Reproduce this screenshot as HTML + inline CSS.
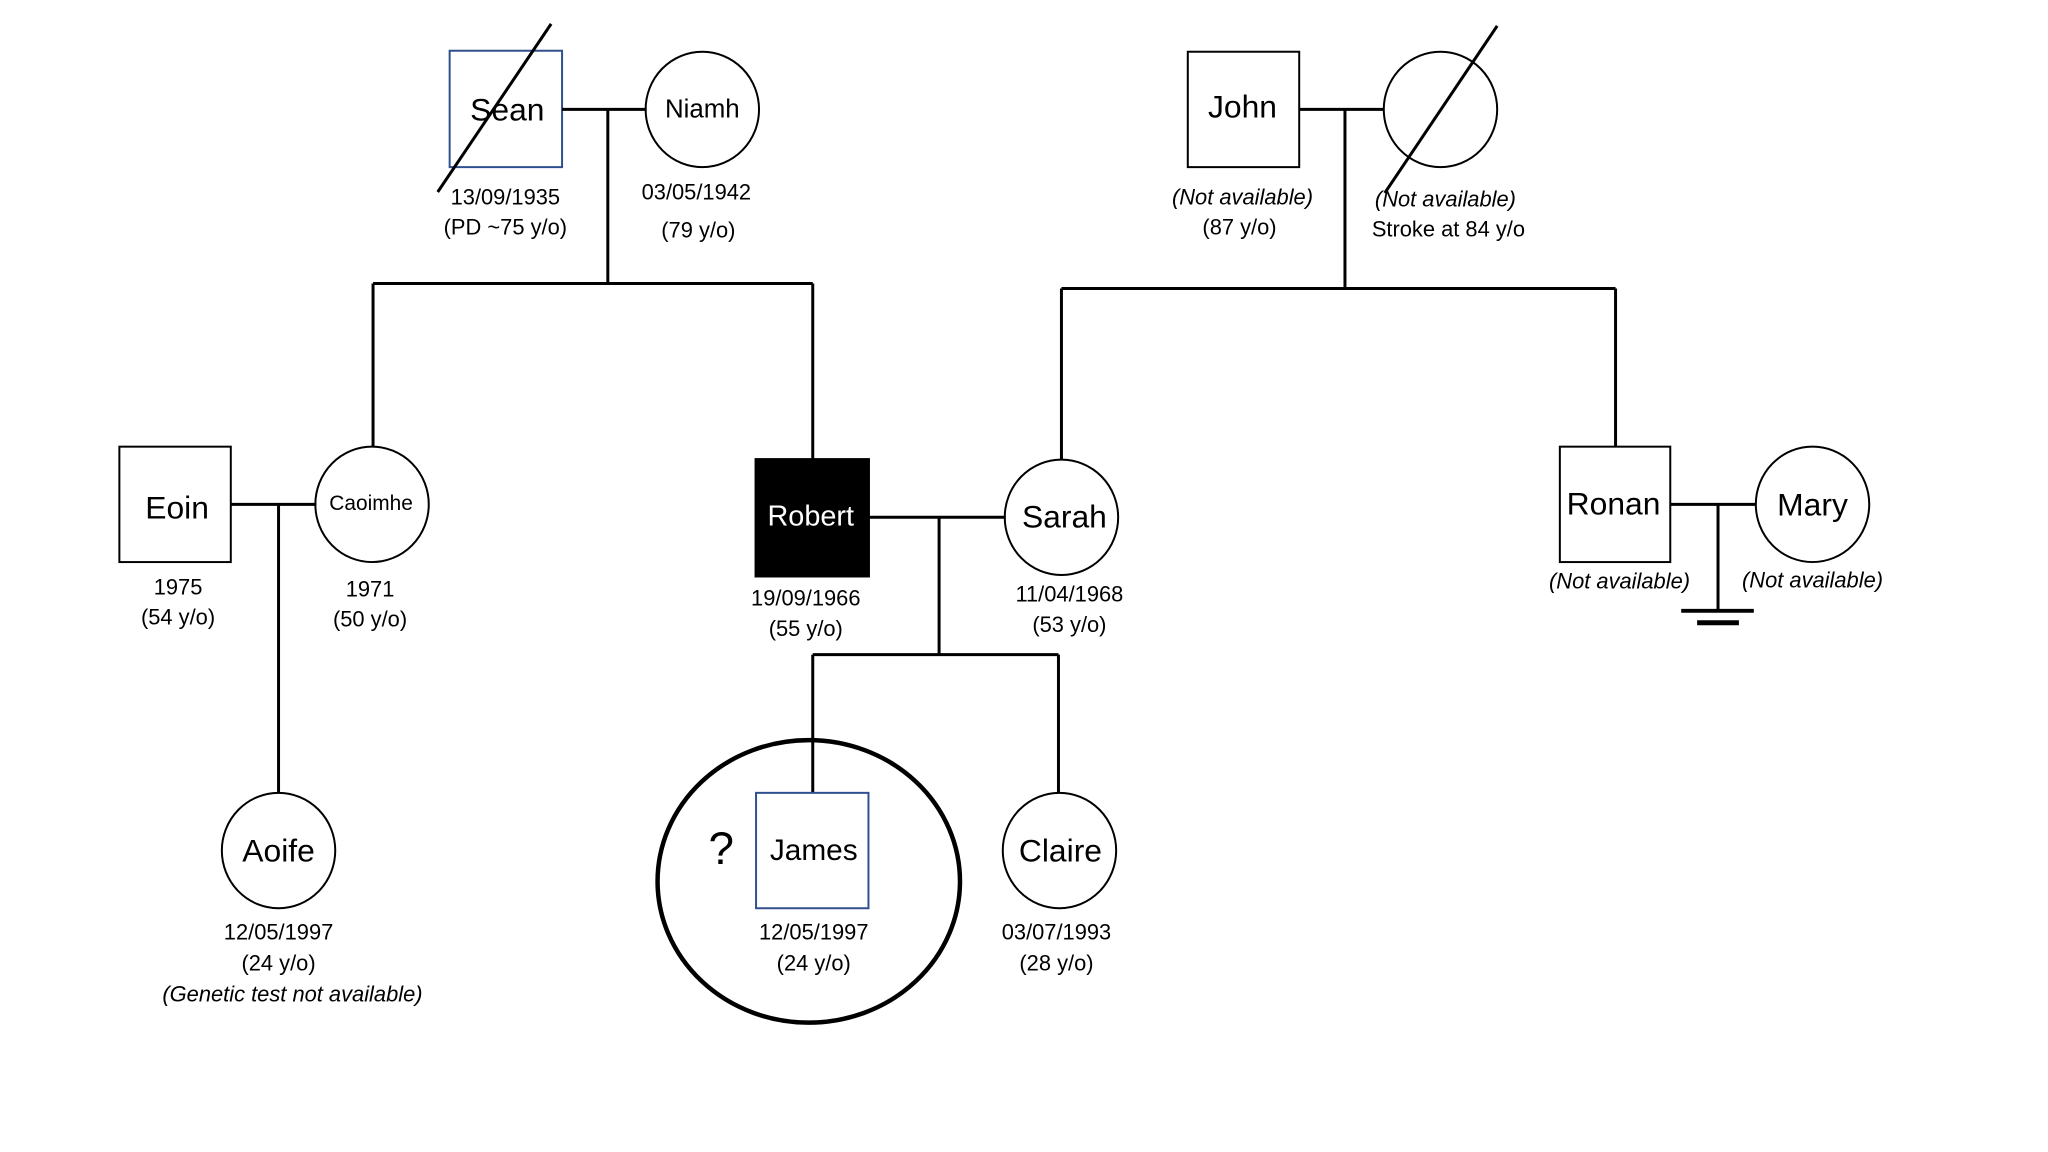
<!DOCTYPE html>
<html><head><meta charset="utf-8"><style>html,body{margin:0;padding:0;background:#fff}svg{display:block}text{font-family:"Liberation Sans",sans-serif;fill:#000}</style></head><body>
<svg width="2048" height="1152" viewBox="0 0 2048 1152" xmlns="http://www.w3.org/2000/svg">
<g transform="scale(0.9948)">
<g stroke="#000" stroke-width="3" fill="none">
<rect x="452" y="51" width="113" height="117" stroke="#2f4f8f" stroke-width="2"/>
<ellipse cx="706" cy="110" rx="57" ry="58" stroke-width="2"/>
<line x1="565" y1="110" x2="650" y2="110"/>
<line x1="611" y1="110" x2="611" y2="285"/>
<line x1="375" y1="285" x2="817" y2="285"/>
<line x1="375" y1="285" x2="375" y2="449"/>
<line x1="817" y1="285" x2="817" y2="462"/>
<rect x="120" y="449" width="112" height="116" stroke-width="2"/>
<ellipse cx="374" cy="507" rx="57" ry="58" stroke-width="2"/>
<line x1="232" y1="507" x2="318" y2="507"/>
<line x1="280" y1="507" x2="280" y2="797"/>
<ellipse cx="280" cy="855" rx="57" ry="58" stroke-width="2"/>
<rect x="760" y="462" width="113" height="117" fill="#000"/>
<ellipse cx="1067" cy="520" rx="57" ry="58" stroke-width="2"/>
<line x1="873" y1="520" x2="1011" y2="520"/>
<line x1="944" y1="520" x2="944" y2="658"/>
<line x1="817" y1="658" x2="1064" y2="658"/>
<line x1="817" y1="658" x2="817" y2="797"/>
<line x1="1064" y1="658" x2="1064" y2="797"/>
<rect x="760" y="797" width="113" height="116" stroke="#2f4f8f" stroke-width="2"/>
<ellipse cx="813" cy="886" rx="152" ry="142" stroke-width="4.5"/>
<ellipse cx="1065" cy="855" rx="57" ry="58" stroke-width="2"/>
<rect x="1194" y="52" width="112" height="116" stroke-width="2"/>
<ellipse cx="1448" cy="110" rx="57" ry="58" stroke-width="2"/>
<line x1="1306" y1="110" x2="1391" y2="110"/>
<line x1="1352" y1="110" x2="1352" y2="290"/>
<line x1="1067" y1="290" x2="1624" y2="290"/>
<line x1="1067" y1="290" x2="1067" y2="462"/>
<line x1="1624" y1="290" x2="1624" y2="449"/>
<rect x="1568" y="449" width="111" height="116" stroke-width="2"/>
<ellipse cx="1822" cy="507" rx="57" ry="58" stroke-width="2"/>
<line x1="1679" y1="507" x2="1765" y2="507"/>
<line x1="1727" y1="507" x2="1727" y2="614"/>
<line x1="1690" y1="614" x2="1763" y2="614" stroke-width="4"/>
<line x1="1706" y1="626" x2="1748" y2="626" stroke-width="5"/>
<line x1="440" y1="193" x2="554" y2="24"/>
<line x1="1392" y1="194" x2="1505" y2="26"/>
</g>
<g text-anchor="middle" dominant-baseline="central">
<text x="510" y="110" font-size="32">Sean</text>
<text x="706" y="110" font-size="26">Niamh</text>
<text x="1249" y="107" font-size="32">John</text>
<text x="178" y="510" font-size="32">Eoin</text>
<text x="373" y="506" font-size="21">Caoimhe</text>
<text x="815" y="519" font-size="29" style="fill:#fff">Robert</text>
<text x="1070" y="519" font-size="32">Sarah</text>
<text x="1622" y="506" font-size="32">Ronan</text>
<text x="1822" y="507" font-size="32">Mary</text>
<text x="280" y="855" font-size="32">Aoife</text>
<text x="818" y="855" font-size="30">James</text>
<text x="1066" y="855" font-size="32">Claire</text>
<text x="725" y="853" font-size="46">?</text>
<g font-size="22">
<text x="508" y="198">13/09/1935</text>
<text x="508" y="228">(PD ~75 y/o)</text>
<text x="700" y="193">03/05/1942</text>
<text x="702" y="231">(79 y/o)</text>
<text x="1249" y="198" font-style="italic">(Not available)</text>
<text x="1246" y="228">(87 y/o)</text>
<text x="1453" y="200" font-style="italic">(Not available)</text>
<text x="1456" y="230">Stroke at 84 y/o</text>
<text x="179" y="590">1975</text>
<text x="179" y="620">(54 y/o)</text>
<text x="372" y="592">1971</text>
<text x="372" y="622">(50 y/o)</text>
<text x="810" y="601">19/09/1966</text>
<text x="810" y="632">(55 y/o)</text>
<text x="1075" y="597">11/04/1968</text>
<text x="1075" y="628">(53 y/o)</text>
<text x="1628" y="584" font-style="italic">(Not available)</text>
<text x="1822" y="583" font-style="italic">(Not available)</text>
<text x="280" y="937">12/05/1997</text>
<text x="280" y="968">(24 y/o)</text>
<text x="294" y="999" font-style="italic">(Genetic test not available)</text>
<text x="818" y="937">12/05/1997</text>
<text x="818" y="968">(24 y/o)</text>
<text x="1062" y="937">03/07/1993</text>
<text x="1062" y="968">(28 y/o)</text>
</g>
</g>
</g>
</svg>
</body></html>
